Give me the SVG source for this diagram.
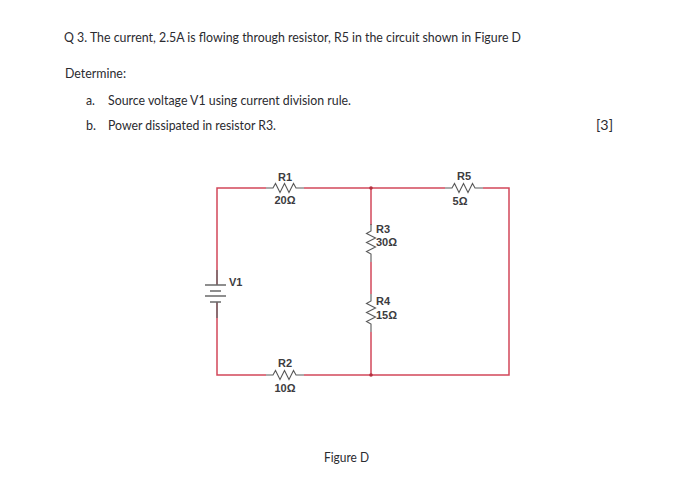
<svg xmlns="http://www.w3.org/2000/svg" width="700" height="494" viewBox="0 0 700 494">
<style>
.t{font-family:Lato,"Open Sans","Liberation Sans",sans-serif;font-size:12.5px;fill:#2b2b30}
.l{font-family:"Liberation Sans",Arial,sans-serif;font-size:11px;font-weight:bold;fill:#3c3c40}
.w{fill:none;stroke:#d2475a;stroke-width:1.5}
.c{fill:none;stroke:#5a5a5a;stroke-width:1.1}
.p{fill:none;stroke:#6a6a6a;stroke-width:1.4}
</style>
<defs>
<path id="rh" d="M-19 0H-12L-9.500-4.500-5 4.500-.5-4.500 4 4.500 8.500-4.500 11 0H19"/>
<path id="rv" d="M0-19V-12L-4.500-9.500 4.500-5-4.500-.5 4.500 4-4.500 8.500 0 11V19"/>
</defs>
<rect width="700" height="494" fill="#fff"/>
<g id="text">
<text class="t" x="64" y="42" textLength="457" lengthAdjust="spacingAndGlyphs">Q 3. The current, 2.5A is flowing through resistor, R5 in the circuit shown in Figure D</text>
<text class="t" x="65" y="78" textLength="61" lengthAdjust="spacingAndGlyphs">Determine:</text>
<text class="t" x="86" y="105" textLength="9" lengthAdjust="spacingAndGlyphs">a.</text>
<text class="t" x="108" y="105" textLength="243" lengthAdjust="spacingAndGlyphs">Source voltage V1 using current division rule.</text>
<text class="t" x="86" y="130" textLength="10" lengthAdjust="spacingAndGlyphs">b.</text>
<text class="t" x="108" y="130" textLength="168" lengthAdjust="spacingAndGlyphs">Power dissipated in resistor R3.</text>
<text class="t" x="596" y="130" textLength="17" lengthAdjust="spacingAndGlyphs">[3]</text>
<text class="t" x="324" y="462" textLength="45" lengthAdjust="spacingAndGlyphs">Figure D</text>
</g>
<g id="connectors">
<path class="w" d="M266 188H217V285"/>
<path class="w" d="M304 188H445"/>
<path class="w" d="M483 188H509V375H371"/>
<path class="w" d="M217 302V375H266"/>
<path class="w" d="M304 375H371"/>
<path class="w" d="M371 188V225"/>
<path class="w" d="M371 262V294"/>
<path class="w" d="M371 332V375"/>
<circle cx="371" cy="188" r="1.800" fill="#b5303f"/>
<circle cx="371" cy="375" r="1.800" fill="#b5303f"/>
</g>
<g id="R1"><use href="#rh" class="c" x="285" y="188"/><text class="l" x="285" y="181" text-anchor="middle">R1</text><text class="l" x="285" y="204" text-anchor="middle">20Ω</text></g>
<g id="R2"><use href="#rh" class="c" x="285" y="375"/><text class="l" x="285" y="367" text-anchor="middle">R2</text><text class="l" x="285" y="392" text-anchor="middle">10Ω</text></g>
<g id="R5"><use href="#rh" class="c" x="464" y="188"/><text class="l" x="464" y="180" text-anchor="middle">R5</text><text class="l" x="460" y="205" text-anchor="middle">5Ω</text></g>
<g id="R3"><use href="#rv" class="c" x="371" y="243"/><text class="l" x="376" y="233">R3</text><text class="l" x="376" y="246">30Ω</text></g>
<g id="R4"><use href="#rv" class="c" x="371" y="313"/><text class="l" x="376" y="305">R4</text><text class="l" x="376" y="319">15Ω</text></g>
<g id="V1">
<path class="p" d="M217 270V285M205 285H226M210 291H221M205 296H226M210 302H221M217 302V318"/>
<text class="l" x="229" y="286">V1</text>
</g>
</svg>
